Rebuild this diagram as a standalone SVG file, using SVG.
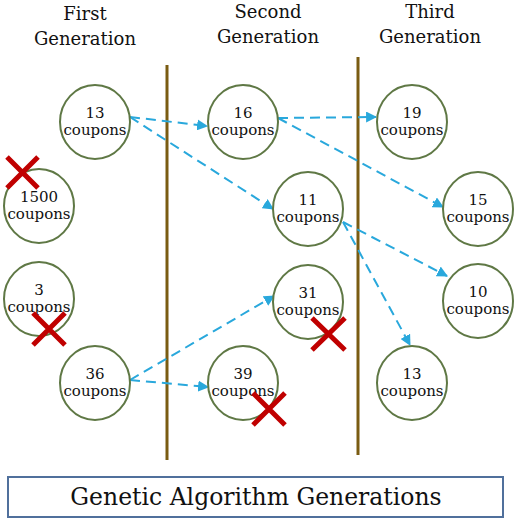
<svg xmlns="http://www.w3.org/2000/svg" width="516" height="522" viewBox="0 0 516 522">
<defs>
<marker id="ah" viewBox="0 0 10 10" refX="9" refY="5" markerWidth="5.5" markerHeight="5.5" orient="auto" markerUnits="strokeWidth">
<path d="M0,0 L10,5 L0,10 z" fill="#29a8dc"/>
</marker>
</defs>
<style>
.title{font-family:"DejaVu Serif","Liberation Serif",serif;font-size:18px;fill:#111;text-anchor:middle}
.node ellipse{fill:#fff;stroke:#5f7845;stroke-width:2}
.node text{font-family:"DejaVu Serif","Liberation Serif",serif;font-size:15px;fill:#111;text-anchor:middle}
.edge{fill:none;stroke:#29a8dc;stroke-width:2;stroke-dasharray:10,6;marker-end:url(#ah)}
.sep{stroke:#7a5c12;stroke-width:3}
.x{stroke:#c00000;stroke-width:5;stroke-linecap:butt}
.cap{font-family:"DejaVu Serif","Liberation Serif",serif;font-size:23.5px;fill:#111;text-anchor:middle}
</style>
<rect width="516" height="522" fill="#fff"/>
<g id="titles">
<text class="title" x="85" y="20">First</text>
<text class="title" x="85" y="45">Generation</text>
<text class="title" x="268" y="18">Second</text>
<text class="title" x="268" y="43">Generation</text>
<text class="title" x="430" y="18">Third</text>
<text class="title" x="430" y="43">Generation</text>
</g>
<g id="separators">
<line class="sep" x1="167" y1="65" x2="167" y2="460"/>
<line class="sep" x1="358" y1="57" x2="358" y2="455"/>
</g>
<g id="connectors">
<line class="edge" x1="130" y1="117" x2="207" y2="126"/>
<line class="edge" x1="130" y1="117" x2="273" y2="209"/>
<line class="edge" x1="278" y1="118" x2="376" y2="117"/>
<line class="edge" x1="278" y1="118" x2="443" y2="207"/>
<line class="edge" x1="343" y1="222" x2="447" y2="276"/>
<line class="edge" x1="343" y1="222" x2="410" y2="345"/>
<line class="edge" x1="130" y1="380" x2="274" y2="296"/>
<line class="edge" x1="130" y1="380" x2="208" y2="387"/>
</g>
<g id="n1" class="node"><ellipse cx="95" cy="122" rx="35" ry="37"/><text x="95" y="118">13</text><text x="95" y="135">coupons</text></g>
<g id="n2" class="node"><ellipse cx="39" cy="206" rx="35" ry="37"/><text x="39" y="202">1500</text><text x="39" y="219">coupons</text></g>
<g id="n3" class="node"><ellipse cx="39" cy="299" rx="35" ry="37"/><text x="39" y="295">3</text><text x="39" y="312">coupons</text></g>
<g id="n4" class="node"><ellipse cx="95" cy="383" rx="35" ry="37"/><text x="95" y="379">36</text><text x="95" y="396">coupons</text></g>
<g id="n5" class="node"><ellipse cx="243" cy="122" rx="35" ry="37"/><text x="243" y="118">16</text><text x="243" y="135">coupons</text></g>
<g id="n6" class="node"><ellipse cx="308" cy="209" rx="35" ry="37"/><text x="308" y="205">11</text><text x="308" y="222">coupons</text></g>
<g id="n7" class="node"><ellipse cx="308" cy="302" rx="35" ry="37"/><text x="308" y="298">31</text><text x="308" y="315">coupons</text></g>
<g id="n8" class="node"><ellipse cx="243" cy="383" rx="35" ry="37"/><text x="243" y="379">39</text><text x="243" y="396">coupons</text></g>
<g id="n9" class="node"><ellipse cx="412" cy="122" rx="35" ry="37"/><text x="412" y="118">19</text><text x="412" y="135">coupons</text></g>
<g id="n10" class="node"><ellipse cx="478" cy="209" rx="35" ry="37"/><text x="478" y="205">15</text><text x="478" y="222">coupons</text></g>
<g id="n11" class="node"><ellipse cx="478" cy="301" rx="35" ry="37"/><text x="478" y="297">10</text><text x="478" y="314">coupons</text></g>
<g id="n12" class="node"><ellipse cx="412" cy="383" rx="35" ry="37"/><text x="412" y="379">13</text><text x="412" y="396">coupons</text></g>
<g id="crosses">
<path class="x" d="M7,157 L38,188 M38,157 L7,188"/>
<path class="x" d="M33,313 L65,345 M65,313 L33,345"/>
<path class="x" d="M312,318 L345,350 M345,318 L312,350"/>
<path class="x" d="M253,393 L285,425 M285,393 L253,425"/>
</g>
<g id="caption">
<rect x="8" y="477" width="495" height="40" fill="#fff" stroke="#50709c" stroke-width="2"/>
<text class="cap" x="256" y="505">Genetic Algorithm Generations</text>
</g>
</svg>
